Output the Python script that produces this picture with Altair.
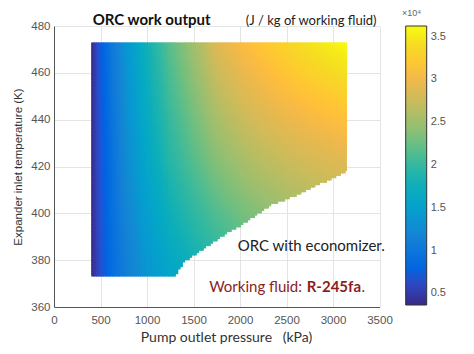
import altair as alt
import numpy as np
import pandas as pd

# MATLAB parula colormap (64 entries)
PARULA = [
    [0.2081, 0.1663, 0.5292], [0.2116, 0.1898, 0.5777], [0.2123, 0.2138, 0.6270], [0.2081, 0.2386, 0.6771],
    [0.1959, 0.2645, 0.7279], [0.1707, 0.2919, 0.7792], [0.1253, 0.3242, 0.8303], [0.0591, 0.3598, 0.8683],
    [0.0117, 0.3875, 0.8820], [0.0060, 0.4086, 0.8828], [0.0165, 0.4266, 0.8786], [0.0329, 0.4430, 0.8720],
    [0.0498, 0.4586, 0.8641], [0.0629, 0.4737, 0.8554], [0.0723, 0.4887, 0.8467], [0.0779, 0.5040, 0.8384],
    [0.0793, 0.5200, 0.8312], [0.0749, 0.5375, 0.8263], [0.0641, 0.5570, 0.8240], [0.0488, 0.5772, 0.8228],
    [0.0343, 0.5966, 0.8199], [0.0265, 0.6137, 0.8135], [0.0239, 0.6287, 0.8038], [0.0231, 0.6418, 0.7913],
    [0.0228, 0.6535, 0.7768], [0.0267, 0.6642, 0.7607], [0.0384, 0.6743, 0.7436], [0.0590, 0.6838, 0.7254],
    [0.0843, 0.6928, 0.7062], [0.1133, 0.7015, 0.6859], [0.1453, 0.7098, 0.6646], [0.1801, 0.7177, 0.6424],
    [0.2178, 0.7250, 0.6193], [0.2586, 0.7317, 0.5954], [0.3022, 0.7376, 0.5712], [0.3482, 0.7424, 0.5473],
    [0.3953, 0.7459, 0.5244], [0.4420, 0.7481, 0.5033], [0.4871, 0.7491, 0.4840], [0.5300, 0.7491, 0.4661],
    [0.5709, 0.7485, 0.4494], [0.6099, 0.7473, 0.4337], [0.6473, 0.7456, 0.4188], [0.6834, 0.7435, 0.4044],
    [0.7184, 0.7411, 0.3905], [0.7525, 0.7384, 0.3768], [0.7858, 0.7356, 0.3633], [0.8185, 0.7327, 0.3498],
    [0.8507, 0.7299, 0.3360], [0.8824, 0.7274, 0.3217], [0.9139, 0.7258, 0.3063], [0.9450, 0.7261, 0.2886],
    [0.9739, 0.7314, 0.2666], [0.9938, 0.7455, 0.2403], [0.9990, 0.7653, 0.2164], [0.9955, 0.7861, 0.1967],
    [0.9880, 0.8066, 0.1794], [0.9789, 0.8271, 0.1633], [0.9697, 0.8481, 0.1475], [0.9626, 0.8705, 0.1309],
    [0.9589, 0.8949, 0.1132], [0.9598, 0.9218, 0.0948], [0.9661, 0.9514, 0.0755], [0.9763, 0.9831, 0.0538],
]
PARULA_HEX = ["#%02x%02x%02x" % tuple(int(round(c * 255)) for c in rgb) for rgb in PARULA]

# Work output readings (J/kg) at anchor pressures (kPa) for anchor temperatures (K)
P_ANCHOR = [400, 450, 500, 600, 800, 1000, 1250, 1500, 1750, 2000, 2250, 2500, 2750, 3000, 3150]
T_ANCHOR = [373, 398, 423, 448, 473]
W_T373 = [3630, 5200, 6500, 8700, 11300, 13700, 15800, 17500, 19000, 20200, 21200, 22000, 22700, 23300, 23600]
W_T398 = [3630, 5300, 6650, 8800, 12100, 14800, 17500, 19500, 21200, 22600, 23700, 24600, 25400, 26000, 26400]
W_T423 = [3630, 5400, 6800, 8900, 13000, 16000, 19300, 21600, 23800, 25400, 26700, 27600, 28300, 28800, 29000]
W_T448 = [3630, 5500, 7000, 9300, 13600, 17000, 20600, 23400, 26300, 28200, 29500, 30500, 31300, 32000, 32500]
W_T473 = [3630, 5600, 7300, 9800, 14200, 17900, 21900, 25200, 28900, 30700, 32000, 33300, 34600, 35700, 36250]

# Lower boundary of the feasible region (minimum expander inlet temperature)
BND_P = [400, 1290, 1400, 1830, 2010, 2340, 2620, 2995, 3150]
BND_T = [373, 373, 379.4, 390.8, 395.0, 403.6, 407.8, 415.1, 418.0]

# Simulation grid
P_STEP, T_STEP = 25, 1
P_LEFT = np.arange(400, 3150, P_STEP)
T_LOW = np.arange(373, 473, T_STEP)

rows = [W_T373, W_T398, W_T423, W_T448, W_T473]
Pc = P_LEFT + P_STEP / 2
Tc = T_LOW + T_STEP / 2
W_rows = np.array([np.interp(Pc, P_ANCHOR, r) for r in rows])
tmin = np.interp(Pc, BND_P, BND_T)
recs = []
for j, p in enumerate(P_LEFT):
    col = np.interp(Tc, T_ANCHOR, W_rows[:, j])
    for i, t in enumerate(T_LOW):
        if Tc[i] >= tmin[j]:
            recs.append((int(p), int(t), int(round(col[i]))))
df = pd.DataFrame(recs, columns=["P", "T", "W"])

cscale = alt.Scale(domain=[3630, 36250], range=PARULA_HEX)

# cells overlap their neighbours by about one pixel to avoid antialiasing seams
heat = alt.Chart(df).transform_calculate(
    P1="min(datum.P + 36, 3150)", T1="min(datum.T + 1.45, 473)"
).mark_rect().encode(
    x=alt.X("P:Q", scale=alt.Scale(domain=[0, 3500], nice=False, zero=False),
            axis=alt.Axis(values=list(range(0, 3501, 500)), format="d",
                          title="Pump outlet pressure\u00a0\u00a0\u00a0(kPa)",
                          labelFont="Liberation Sans", labelFontSize=11.5, labelColor="#555555",
                          labelPadding=7, labelFlush=False, ticks=False, tickSize=0,
                          domainColor="#555555", gridColor="#e4e4e4",
                          titleFont="Lato", titleFontSize=14, titleFontWeight="normal",
                          titleColor="#333333", titleX=172, titleY=30, titleBaseline="middle")),
    x2="P1:Q",
    y=alt.Y("T:Q", scale=alt.Scale(domain=[360, 480], nice=False, zero=False),
            axis=alt.Axis(values=list(range(360, 481, 20)), format="d",
                          title="Expander inlet temperature (K)",
                          labelFont="Liberation Sans", labelFontSize=11.5, labelColor="#555555",
                          labelPadding=4, labelFlush=False, ticks=False, tickSize=0,
                          domainColor="#555555", gridColor="#e4e4e4",
                          titleFont="Liberation Sans", titleFontSize=11.5, titleFontWeight="normal",
                          titleColor="#333333", titleX=-36, titleY=140.5, titleAngle=270,
                          titleAlign="center", titleBaseline="middle")),
    y2="T1:Q",
    color=alt.Color("W:Q", scale=cscale,
                    legend=alt.Legend(type="gradient", title=None, orient="none",
                                      legendX=351.7, legendY=0,
                                      direction="vertical", gradientLength=279,
                                      gradientThickness=21, gradientStrokeColor="#333333",
                                      gradientStrokeWidth=1,
                                      values=[5000, 10000, 15000, 20000, 25000, 30000, 35000],
                                      labelExpr="datum.value / 10000",
                                      labelFont="Liberation Sans", labelFontSize=11,
                                      labelColor="#555555", labelOffset=4, labelOverlap=False)),
)


def txt(text, x, y, **kw):
    return alt.Chart(pd.DataFrame({"t": [text]})).mark_text(baseline="alphabetic", **kw).encode(
        x=alt.value(x), y=alt.value(y), text="t:N")


RED = "#8c1d1d"
texts = [
    txt("ORC work output", 38.7, -1, align="left", font="Lato", fontSize=15, fontWeight="bold", color="#111111"),
    txt("(J / kg of working fluid)", 191.7, -1, align="left", font="Lato", fontSize=13, color="#222222"),
    txt("ORC with economizer.", 183.7, 224.7, align="left", font="Lato", fontSize=15, color="#222222"),
    txt("Working fluid:", 248, 265.7, align="right", font="Lato", fontSize=15, color=RED),
    txt("R-245fa", 307, 265.7, align="right", font="Lato", fontSize=15, fontWeight="bold", color=RED),
    txt(".", 307.5, 265.7, align="left", font="Lato", fontSize=15, color=RED),
    txt("\u00d710\u2074", 348, -10, align="left", font="Liberation Sans", fontSize=9, color="#666666"),
]

chart = alt.layer(heat, *texts).properties(
    width=325.5, height=281,
    padding={"left": 54, "top": 26, "right": 94, "bottom": 47},
    autosize="none",
    background="white",
).configure_view(strokeWidth=0)

chart.save("out.html", embed_options={"renderer": "svg", "actions": False})
